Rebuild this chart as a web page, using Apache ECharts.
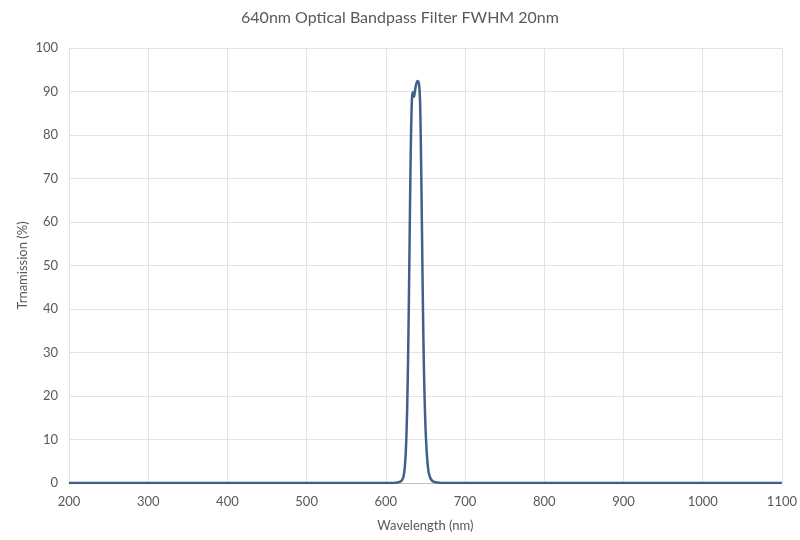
<!DOCTYPE html>
<html style="height: 100%">
	<head>
		<meta charset="utf-8">
	</head>
	<body style="height: 100%; margin: 0; background: #fff">
		<div id="container" style="width: 800px; height: 540px"></div>
		<script type="text/javascript" src="https://cdn.jsdelivr.net/npm/echarts@6/dist/echarts.min.js"></script>
		<script type="text/javascript">
			// wavelength (nm) and transmission (%)
			const wavelengths = [200, 300, 400, 500, 550, 600, 610, 615, 618, 620, 622, 623, 624, 625, 626, 627, 628, 629, 630, 631, 632, 633, 634, 634.8, 635.6, 636.6, 638, 639.5, 640.5, 641.5, 642.5, 643.3, 644, 645, 646, 647, 648, 649, 650, 651, 652, 653, 654, 656, 658, 660, 665, 670, 700, 800, 900, 1000, 1100];
			const transmission = [0, 0, 0, 0, 0, 0, 0, 0.1, 0.3, 0.6, 1.3, 2.2, 3.8, 6.5, 11, 18, 28, 41, 56, 71, 82, 88.5, 89.8, 89.3, 88.8, 90, 91.5, 92.3, 92.4, 92, 90.5, 87, 80, 67, 52, 38, 27, 19, 13, 9, 6, 4, 2.5, 1.2, 0.6, 0.3, 0.1, 0, 0, 0, 0, 0, 0];
			const titleText = '640nm Optical Bandpass Filter FWHM 20nm';
			const xName = 'Wavelength (nm)';
			const yName = 'Trnamission (%)';

			const points = wavelengths.map(function (w, i) {
				return [w, transmission[i]];
			});

			var dom = document.getElementById('container');
			var myChart = echarts.init(dom, null, { renderer: 'canvas' });
			const font = 'Lato';
			const grey = '#595959';

			var option = {
				animation: false,
				textStyle: { fontFamily: font },
				title: {
					text: titleText,
					left: 'center',
					top: 5,
					textStyle: { fontFamily: font, fontSize: 16, fontWeight: 'normal', color: grey }
				},
				grid: { left: 69, right: 18, top: 48, bottom: 57 },
				xAxis: {
					type: 'value',
					min: 200,
					max: 1100,
					interval: 100,
					name: xName,
					nameLocation: 'middle',
					nameGap: 36,
					nameTextStyle: { fontFamily: font, fontSize: 13, color: grey },
					axisLine: { show: true, lineStyle: { color: '#bfbfbf' } },
					axisTick: { show: false },
					axisLabel: {
						fontFamily: font, fontSize: 13, color: grey, margin: 12,
						formatter: function (v) { return String(v); }
					},
					splitLine: { show: true, lineStyle: { color: '#e3e3e3' } }
				},
				yAxis: {
					type: 'value',
					min: 0,
					max: 100,
					interval: 10,
					name: yName,
					nameLocation: 'middle',
					nameGap: 40,
					nameMoveOverlap: false,
					nameTextStyle: { fontFamily: font, fontSize: 13, color: grey },
					axisLine: { show: false },
					axisTick: { show: false },
					axisLabel: { fontFamily: font, fontSize: 13, color: grey, margin: 11 },
					splitLine: { show: true, lineStyle: { color: '#e3e3e3' } }
				},
				series: [{
					type: 'line',
					data: points,
					showSymbol: false,
					smooth: 0.3,
					lineStyle: { color: '#3f6189', width: 2.5 }
				}]
			};
			myChart.setOption(option);
		</script>
	</body>
</html>
